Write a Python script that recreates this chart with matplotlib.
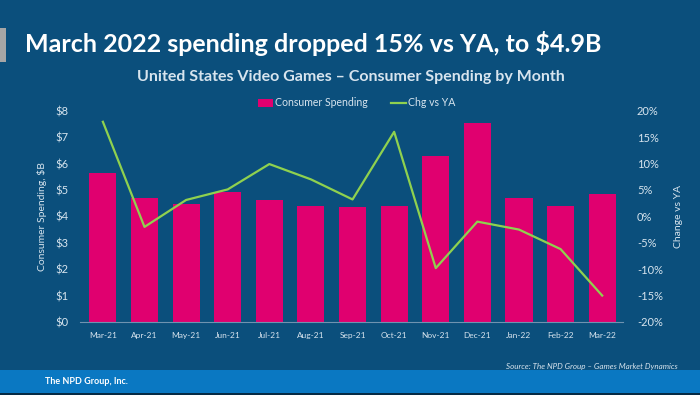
import matplotlib
matplotlib.use("Agg")
import matplotlib.pyplot as plt
from matplotlib.patches import Rectangle
from matplotlib.lines import Line2D
from matplotlib.ticker import FuncFormatter, MultipleLocator

# data
months = ["Mar-21", "Apr-21", "May-21", "Jun-21", "Jul-21", "Aug-21", "Sep-21",
          "Oct-21", "Nov-21", "Dec-21", "Jan-22", "Feb-22", "Mar-22"]
spending_b = [5.63, 4.68, 4.46, 4.94, 4.62, 4.39, 4.37, 4.39, 6.29, 7.55, 4.71, 4.39, 4.86]
chg_vs_ya = [17.9, -2.0, 3.1, 5.1, 9.9, 7.0, 3.2, 16.0, -9.8, -1.0, -2.5, -6.2, -15.0]

BG = "#0b4f7c"
BAND = "#0a78c2"
PINK = "#e0006f"
GREEN = "#8fd14f"
TXT = "#d7e4ee"
FONT = ["Lato", "DejaVu Sans"]

plt.rcParams["font.family"] = FONT

fig = plt.figure(figsize=(7, 3.95), dpi=100, facecolor=BG)
W, H = 700, 395


def fx(px):
    return px / W


def fy(py):
    return 1 - py / H


# header accent and footer band
fig.patches.append(Rectangle((0, fy(62)), fx(6), (62 - 28) / H, transform=fig.transFigure,
                             facecolor="#a6a6a6", edgecolor="none"))
fig.patches.append(Rectangle((0, fy(393)), 1, (393 - 370) / H, transform=fig.transFigure,
                             facecolor=BAND, edgecolor="none"))
fig.patches.append(Rectangle((0, 0), 1, 2 / H, transform=fig.transFigure,
                             facecolor="#062a44", edgecolor="none"))

fig.text(fx(25), fy(43), "March 2022 spending dropped 15% vs YA, to $4.9B",
         color="white", fontsize=18, fontweight="bold", va="center", ha="left")
fig.text(fx(351), fy(77), "United States Video Games \u2013 Consumer Spending by Month",
         color=TXT, fontsize=11.5, fontweight="bold", va="center", ha="center")
fig.text(fx(678), fy(366), "Source: The NPD Group \u2013 Games Market Dynamics",
         color=TXT, fontsize=5.8, style="italic", va="center", ha="right")
fig.text(fx(45), fy(382), "The NPD Group, Inc.", color="white", fontsize=6.5,
         fontweight="bold", va="center", ha="left")

# main axes
ax = fig.add_axes([fx(80), fy(322), fx(623 - 80), (322 - 110.7) / H])
ax.set_facecolor("none")
x = range(len(months))
ax.bar(x, spending_b, width=0.65, color=PINK, zorder=2)
ax.set_xlim(-0.55, len(months) - 0.5)
ax.set_ylim(0, 8)
ax.yaxis.set_major_locator(MultipleLocator(1))
ax.yaxis.set_major_formatter(FuncFormatter(lambda v, _: f"${v:.0f}"))
ax.set_xticks(list(x))
ax.set_xticklabels(months)
ax.tick_params(axis="x", length=0, colors=TXT, labelsize=6, pad=7)
ax.tick_params(axis="y", length=0, colors=TXT, labelsize=8, pad=8)
ax.set_ylabel("Consumer Spending, $B", color=TXT, fontsize=7.5, labelpad=6)
for s in ["top", "right", "left"]:
    ax.spines[s].set_visible(False)
ax.spines["bottom"].set_color("#6f93b0")
ax.spines["bottom"].set_linewidth(0.8)

ax2 = ax.twinx()
ax2.plot(list(x), chg_vs_ya, color=GREEN, linewidth=1.6, zorder=3)
ax2.set_ylim(-20, 20)
ax2.yaxis.set_major_locator(MultipleLocator(5))
ax2.yaxis.set_major_formatter(FuncFormatter(lambda v, _: f"{v:.0f}%"))
ax2.tick_params(axis="y", length=0, colors=TXT, labelsize=8, pad=10)
ax2.set_ylabel("Change vs YA", color=TXT, fontsize=7.5, labelpad=8)
for s in ax2.spines.values():
    s.set_visible(False)

handles = [Rectangle((0, 0), 1, 1, facecolor=PINK, edgecolor="none"),
           Line2D([0], [0], color=GREEN, linewidth=1.6)]
fig.legend(handles, ["Consumer Spending", "Chg vs YA"], loc="center",
           bbox_to_anchor=(fx(357), fy(103)), ncol=2, frameon=False,
           fontsize=7.6, labelcolor=TXT, handlelength=1.4, handleheight=0.7,
           handletextpad=0.2, columnspacing=2.2)

fig.savefig("out.png", dpi=100, facecolor=BG)
